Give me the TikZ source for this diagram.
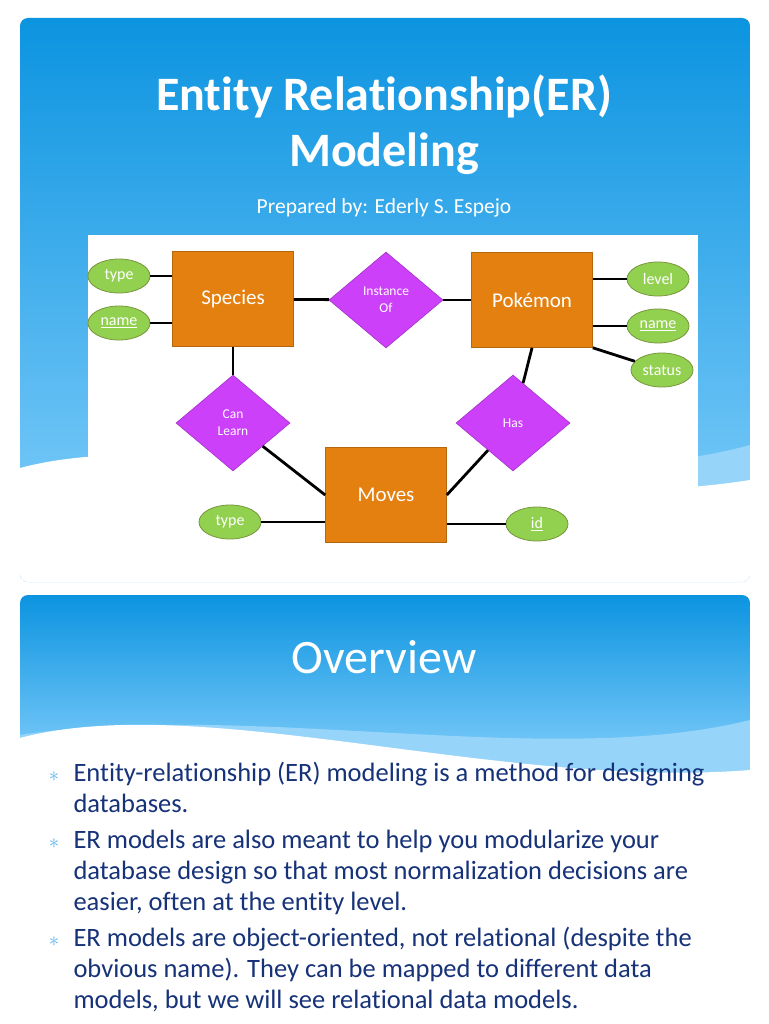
\documentclass[tikz,border=0pt]{standalone}
\usepackage{fontspec}
\setmainfont[Ligatures={NoCommon}]{Carlito}
\usetikzlibrary{shapes.geometric}
\definecolor{skyTop}{RGB}{12,148,224}
\definecolor{skyLow}{RGB}{110,196,246}
\definecolor{waveBlue}{RGB}{150,212,250}
\definecolor{entOrange}{RGB}{228,128,16}
\definecolor{relPurple}{RGB}{204,64,250}
\definecolor{attGreen}{RGB}{146,208,80}
\definecolor{attEdge}{RGB}{120,150,60}
\definecolor{bodyBlue}{RGB}{22,50,120}
\definecolor{bulletBlue}{RGB}{90,180,240}
\begin{document}
\begin{tikzpicture}[x=1pt,y=-1pt,
  entity/.style={rectangle,fill=entOrange,draw=entOrange!80!black,line width=0.6pt,
    minimum width=121pt,minimum height=95pt,text=white,font=\fontsize{21}{21}\selectfont},
  rel/.style={diamond,fill=relPurple,draw=relPurple!80!black,line width=0.6pt,aspect=1.2,
    minimum width=114pt,minimum height=96pt,inner sep=0pt,text=white,align=center,
    font=\fontsize{13.5}{17}\selectfont},
  attr/.style={ellipse,fill=attGreen,draw=attEdge,line width=0.8pt,minimum width=62pt,
    minimum height=34pt,inner sep=0pt,text=white,font=\fontsize{16}{16}\selectfont},
  link/.style={line width=2.8pt,black},
  bullet/.style={anchor=base west,text=bodyBlue,font=\fontsize{26.5}{26.5}\selectfont}]
\useasboundingbox (0,0) rectangle (768,1024);
\fill[white] (0,0) rectangle (768,1024);
% slide 1
\begin{scope}
\clip[rounded corners=8pt] (20,18) rectangle (750,582);
\shade[top color=skyTop,bottom color=skyLow] (20,18) rectangle (750,470);
\fill[skyLow] (20,470) rectangle (750,582);
\fill[waveBlue] (20,470) .. controls (250,430) and (550,500) .. (750,445) -- (750,582) -- (20,582) -- cycle;
\fill[white] (20,468) .. controls (200,420) and (500,520) .. (750,480) -- (750,582) -- (20,582) -- cycle;
\end{scope}
\node[text=white,font=\bfseries\fontsize{48}{56}\selectfont,align=center] (title) at (384,125)
  {Entity Relationship(ER)\\Modeling};
\node[text=white,font=\fontsize{21.5}{21.5}\selectfont] (author) at (384,208) {Prepared by: Ederly S. Espejo};
% ER diagram
\fill[white] (88,235) rectangle (698,550);
\node[entity] (species) at (233,299) {Species};
\node[rel] (inst) at (386,300) {Instance\\Of};
\node[entity] (poke) at (532,300) {Pokémon};
\node[rel] (learn) at (233,423) {Can\\Learn};
\node[rel] (has) at (513,423) {Has};
\node[entity] (moves) at (386,495) {Moves};
\node[attr] (stype) at (119,276) {type};
\node[attr] (sname) at (119,323) {\underline{name}};
\node[attr] (plevel) at (658,279) {level};
\node[attr] (pname) at (658,326) {\underline{name}};
\node[attr] (pstatus) at (662,370) {status};
\node[attr] (mtype) at (230,522) {type};
\node[attr] (mid) at (537,524) {\underline{id}};
\draw[link] (stype) -- (stype -| species.west);
\draw[link] (sname) -- (sname -| species.west);
\draw[link] (species) -- (inst);
\draw[link] (inst) -- (poke);
\draw[link] (plevel) -- (plevel -| poke.east);
\draw[link] (pname) -- (pname -| poke.east);
\draw[link] (poke.south east) -- (pstatus);
\draw[link] (species) -- (learn);
\draw[link] (poke.south) -- (has);
\draw[link] (learn) -- (moves.west);
\draw[link] (has) -- (moves.east);
\draw[link] (mtype) -- (moves.west |- mtype);
\draw[link] (mid) -- (moves.east |- mid);
% slide 2
\begin{scope}
\clip[rounded corners=8pt] (20,595) rectangle (750,1040);
\shade[top color=skyTop,bottom color=skyLow] (20,595) rectangle (750,740);
\fill[skyLow] (20,740) rectangle (750,1040);
\fill[waveBlue] (20,735) .. controls (250,700) and (550,770) .. (750,720) -- (750,1040) -- (20,1040) -- cycle;
\fill[white] (20,738) .. controls (200,690) and (500,790) .. (750,770) -- (750,1040) -- (20,1040) -- cycle;
\end{scope}
\node[text=white,font=\fontsize{48}{48}\selectfont] (overview) at (384,657) {Overview};
\foreach \y in {781,848,946}
  \node[anchor=base,text=bulletBlue,font=\fontsize{20}{20}\selectfont] at (54,\y) {$\ast$};
\node[bullet] (b1a) at (70,781) {Entity-relationship (ER) modeling is a method for designing};
\node[bullet] (b1b) at (70,812) {databases.};
\node[bullet] (b2a) at (70,848) {ER models are also meant to help you modularize your};
\node[bullet] (b2b) at (70,879) {database design so that most normalization decisions are};
\node[bullet] (b2c) at (70,910) {easier, often at the entity level.};
\node[bullet] (b3a) at (70,946) {ER models are object-oriented, not relational (despite the};
\node[bullet] (b3b) at (70,977) {obvious name). They can be mapped to different data};
\node[bullet] (b3c) at (70,1008) {models, but we will see relational data models.};
\end{tikzpicture}
\end{document}
